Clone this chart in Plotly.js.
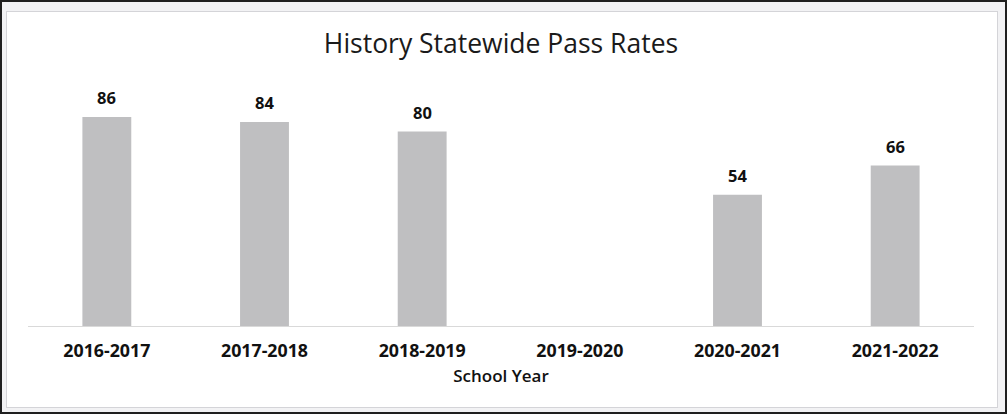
<!DOCTYPE html>
<html>
<head>
<meta charset="utf-8">
<script src="https://cdn.plot.ly/plotly-3.0.1.min.js"></script>
<style>
  html, body { margin: 0; padding: 0; background: #ffffff; }
  #frame { position: absolute; left: 0; top: 0; width: 1007px; height: 414px; box-sizing: border-box;
           border: 2px solid #1f1f1f; background: #f2f2f4; }
  #inner { position: absolute; left: 6px; top: 11px; width: 992px; height: 397px; box-sizing: border-box;
           border: 1px solid #d4d4d8; background: #ffffff; }
  #chart { position: absolute; left: 0; top: 0; width: 1007px; height: 414px; }
</style>
</head>
<body>
<div id="frame"></div>
<div id="inner"></div>
<div id="chart"></div>
<script>
const schoolYears = ["2016-2017", "2017-2018", "2018-2019", "2019-2020", "2020-2021", "2021-2022"];
const passRates = [86, 84, 80, null, 54, 66];

const FONT = '"Open Sans", "DejaVu Sans", sans-serif';

const annotations = [];
schoolYears.forEach((yr, i) => {
  if (passRates[i] !== null) {
    annotations.push({
      x: yr, y: passRates[i], xref: 'x', yref: 'y',
      text: String(passRates[i]), showarrow: false,
      yanchor: 'bottom', yshift: 6,
      font: { family: FONT, size: 16.5, color: '#111111', weight: 'bold' }
    });
  }
});

const trace = {
  type: 'bar',
  x: schoolYears,
  y: passRates,
  marker: { color: '#bfbfc1' },
  hoverinfo: 'x+y'
};

const layout = {
  width: 1007, height: 414,
  paper_bgcolor: 'rgba(0,0,0,0)',
  plot_bgcolor: 'rgba(0,0,0,0)',
  margin: { l: 28, r: 33, t: 83, b: 88 },
  bargap: 0.69,
  showlegend: false,
  title: {
    text: 'History Statewide Pass Rates',
    x: 0.5, xanchor: 'center', xref: 'paper',
    y: 1 - 44 / 414, yanchor: 'middle', yref: 'container',
    font: { family: FONT, size: 26.5, color: '#1a1a1a' }
  },
  xaxis: {
    type: 'category',
    showline: true, linecolor: '#d9d9d9', linewidth: 1,
    showgrid: false, zeroline: false,
    ticks: '', ticklabelstandoff: 9,
    tickfont: { family: FONT, size: 17.8, color: '#111111', weight: 'bold' },
    title: {
      text: 'School Year', standoff: 8,
      font: { family: FONT, size: 17, color: '#111111', weight: 600 }
    }
  },
  yaxis: {
    range: [0, 100],
    visible: false, showgrid: false, zeroline: false
  },
  annotations: annotations
};

Plotly.newPlot('chart', [trace], layout, { displayModeBar: false, staticPlot: true });
</script>
</body>
</html>
